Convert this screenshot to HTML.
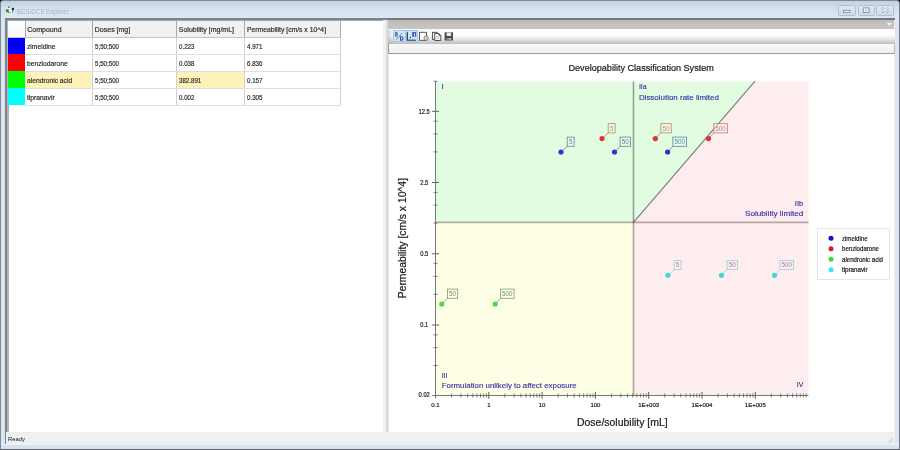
<!DOCTYPE html>
<html>
<head>
<meta charset="utf-8">
<title>BCS/DCS Explorer</title>
<style>
html,body{margin:0;padding:0;}
body{width:900px;height:450px;overflow:hidden;position:relative;background:#15171a;font-family:"Liberation Sans",sans-serif;font-size:7px;color:#2a2a2a;}
.abs{position:absolute;}
#outer{left:0;top:0;width:900px;height:450px;box-sizing:border-box;border:1px solid #6f757e;border-width:1px 1.3px 1.3px 1px;border-color:#838a94 #767d8a #5c626a #808b99;border-radius:4px 4px 0 0;background:#dbe6f2;}
#corners{left:0;top:0;width:900px;height:5px;}
#titlebar{left:1px;top:1px;width:898px;height:17px;background:linear-gradient(#c2d0e2,#d3dfed 40%,#dde8f3);border-radius:3px 3px 0 0;}
#title{left:17px;top:6.5px;font-size:7.4px;color:#98a6b9;white-space:nowrap;transform-origin:0 0;transform:scaleX(0.83);text-shadow:0 0 2px #fff;}
.wb{top:5px;height:10.5px;box-sizing:border-box;border:1px solid #b2bfd0;border-radius:1.5px;background:linear-gradient(#dfe8f3,#cfdbea);}
#clientborder{left:5px;top:18px;width:889.7px;height:426.1px;background:#7e8388;}
#client{left:7px;top:19.5px;width:887.8px;height:425.5px;background:#f0f0f0;}
#leftpane{left:6.5px;top:20.5px;width:376.7px;height:411.2px;background:#fff;border-left:2.6px solid #b3b4b7;box-sizing:border-box;}
#lp_top{left:7px;top:19.5px;width:377px;height:1.5px;background:#a5a8ab;}
#splitter{left:383.2px;top:19.5px;width:5px;height:413.8px;background:linear-gradient(90deg,#f1f1f1 0,#f1f1f1 54%,#dadada 58%,#dcdcdc 100%);}
#status{left:6px;top:431.7px;width:888.8px;height:12.4px;background:linear-gradient(#eeeeec,#eef1f5 35%,#f0f0f0 70%,#efefef);}
#status span{position:absolute;left:2px;top:3.7px;font-size:6.2px;color:#111;transform-origin:0 0;transform:scaleX(0.95);}
#frameB{left:1px;top:444.1px;width:897.7px;height:4.6px;background:linear-gradient(#eef3f9 0,#eef3f9 22%,#d8e3f0 26%,#d6e2ef 100%);}
table{border-collapse:collapse;}
#grid{left:8px;top:21px;table-layout:fixed;}
#grid td{height:17px;padding:1.5px 0 0 1.8px;border-right:1px solid #cfd1d8;border-bottom:1px solid #dfdfe3;font-size:7px;color:#1c1c1c;-webkit-text-stroke:0.18px #333;white-space:nowrap;box-sizing:border-box;overflow:hidden;}
#grid tr.h td{height:16px;padding-top:1.6px;background:#f1f1f1;border-right:1px solid #a9a9a9;border-bottom:1px solid #c4c4c4;color:#222;}
#grid td.sw{padding:0;border-bottom:none;border-right:none;}
#grid tr.h td.sw{background:linear-gradient(#fff,#f4f6fb);border-right:1px solid #a9a9a9;}
#grid td span{display:inline-block;transform-origin:0 50%;}
.n span{transform:scaleX(0.88);}
.hl{background:#fdf2b8;}
#rtopline{left:388px;top:18px;width:506.7px;height:1.6px;background:#73787d;}
#rhead{left:388px;top:19.5px;width:506.4px;height:9.2px;background:linear-gradient(#bdbcba,#c7c6c4);}
#rtool{left:388px;top:28.7px;width:506.8px;height:15.8px;background:linear-gradient(#fbfbfb,#ffffff 35%,#f0f0f0 60%,#bdbdbd);}
#rbar{left:388.2px;top:44.4px;width:506.7px;height:10px;background:linear-gradient(#f8f8f8,#f0f0f0);border:1px solid #999;border-top:none;border-right-color:#b8b8b8;box-sizing:border-box;border-radius:1px;}
#chartbg{left:388px;top:54.4px;width:505.9px;height:379.3px;background:#fff;}
#chartL{left:388px;top:54px;width:0.8px;height:378.5px;background:#e4e4e4;}
.tsel{top:30px;height:12.4px;box-sizing:border-box;border:1px solid #a2c5e8;background:#d4e8fb;}
</style>
</head>
<body>
<div id="wrap" style="position:absolute;left:0;top:0;width:900px;height:450px;will-change:transform">
<div class="abs" id="outer"></div>
<div class="abs" id="titlebar"></div>
<svg class="abs" style="left:2px;top:3px" width="16" height="14" viewBox="2 3 16 14">
<defs><radialGradient id="glow"><stop offset="0" stop-color="#fff" stop-opacity="0.75"/><stop offset="0.55" stop-color="#fff" stop-opacity="0.4"/><stop offset="1" stop-color="#fff" stop-opacity="0"/></radialGradient></defs>
<ellipse cx="9.6" cy="10.3" rx="5.6" ry="5.2" fill="url(#glow)"/>
<circle cx="7.4" cy="10.7" r="1.75" fill="#2e9642"/>
<path d="M7.6 12.2 Q9 13.4 10.6 12.6" stroke="#4a9a6a" stroke-width="1" fill="none"/>
<circle cx="12.9" cy="9.0" r="1.25" fill="#17175c"/>
<path d="M12.9 10.2 L12.5 12.6" stroke="#6f7fa6" stroke-width="1.2" fill="none"/>
<circle cx="8.8" cy="7.2" r="0.85" fill="#8c5c52"/>
<path d="M10 6.4 Q11.4 6.2 12 7.4" stroke="#b9a6d6" stroke-width="0.8" fill="none"/>
</svg>
<div class="abs" id="title">BCS/DCS Explorer</div>
<div class="abs wb" style="left:838.2px;width:17.6px"></div>
<div class="abs wb" style="left:857.5px;width:17.4px"></div>
<div class="abs wb" style="left:876.3px;width:18.2px"></div>
<svg class="abs" style="left:836px;top:4px" width="60" height="13" viewBox="836 4 60 13">
<rect x="843.6" y="10.4" width="6.4" height="2.2" fill="#f4f7fb" stroke="#7f8896" stroke-width="0.8"/>
<rect x="863.2" y="7.9" width="5.8" height="4.7" fill="#f4f7fb" stroke="#7f8896" stroke-width="0.9"/>
<rect x="865.2" y="9.8" width="1.8" height="1.2" fill="#9aa4b2"/>
<path d="M882.2 8 L888 12.6 M888 8 L882.2 12.6" stroke="#8a93a1" stroke-width="2.1" fill="none"/>
<path d="M882.6 8.3 L887.6 12.3 M887.6 8.3 L882.6 12.3" stroke="#f8fafd" stroke-width="1.15" fill="none"/>
</svg>
<div class="abs" style="left:893.8px;top:18px;width:1.6px;height:426.5px;background:#ececee"></div>
<div class="abs" id="clientborder"></div>
<div class="abs" id="client"></div>
<div class="abs" id="frameB"></div>
<div class="abs" id="leftpane"></div>
<div class="abs" id="lp_top"></div>
<table class="abs" id="grid">
<colgroup><col style="width:17px"><col style="width:67.5px"><col style="width:84px"><col style="width:68px"><col style="width:95.5px"></colgroup>
<tr class="h"><td class="sw"></td><td><span>Compound</span></td><td><span>Doses [mg]</span></td><td><span>Solubility [mg/mL]</span></td><td><span style="transform:scaleX(0.97)">Permeability [cm/s x 10^4]</span></td></tr>
<tr><td class="sw" style="background:#0000ff"></td><td><span style="transform:scaleX(0.96)">zimeldine</span></td><td class="n"><span>5;50;500</span></td><td class="n"><span>0.223</span></td><td class="n"><span>4.971</span></td></tr>
<tr><td class="sw" style="background:#ff0000"></td><td><span style="transform:scaleX(0.96)">benziodarone</span></td><td class="n"><span>5;50;500</span></td><td class="n"><span>0.038</span></td><td class="n"><span>6.836</span></td></tr>
<tr><td class="sw" style="background:#00ff00"></td><td class="hl"><span style="transform:scaleX(0.96)">alendronic acid</span></td><td class="n"><span>5;50;500</span></td><td class="hl n"><span>382.891</span></td><td class="n"><span>0.157</span></td></tr>
<tr><td class="sw" style="background:#00ffff"></td><td><span style="transform:scaleX(0.96)">tipranavir</span></td><td class="n"><span>5;50;500</span></td><td class="n"><span>0.002</span></td><td class="n"><span>0.305</span></td></tr>
</table>
<div class="abs" id="splitter"></div>
<div class="abs" id="rtopline"></div>
<div class="abs" id="rhead"></div>
<div class="abs" id="rtool"></div>
<div class="abs" style="left:388px;top:29.5px;width:5px;height:15px;background:linear-gradient(90deg,rgba(150,150,150,0.42),rgba(200,200,200,0))"></div>
<div class="abs" id="rbar"></div>
<div class="abs" id="chartbg"></div>
<div class="abs" id="chartL"></div>
<div class="abs tsel" style="left:393.4px;width:12.2px"></div>
<div class="abs tsel" style="left:405.6px;width:12.1px;background:#cbe2fa"></div>
<svg class="abs" style="left:388px;top:19px" width="507" height="27" viewBox="388 19 507 27">
<!-- dropdown arrow -->
<path d="M886.6 22.9 L892 22.9 L889.3 25.8 Z" fill="#fff" stroke="#dcdcdc" stroke-width="0.6"/>
<!-- percent icon -->
<ellipse cx="396.3" cy="33.3" rx="1.0" ry="1.0" fill="none" stroke="#31529a" stroke-width="1"/>
<ellipse cx="396.4" cy="35.4" rx="1.1" ry="1.1" fill="none" stroke="#31529a" stroke-width="1"/>
<line x1="402.2" y1="33" x2="396.2" y2="39.7" stroke="#6580b0" stroke-width="1"/>
<path d="M400.5 36.7 L400.5 40.1 L401.6 40.1 Q403 40.1 403 38.4 Q403 36.7 401.6 36.7 Z" fill="none" stroke="#31529a" stroke-width="1.1"/>
<!-- chart icon -->
<path d="M407.4 32.2 L407.4 40.3 L415.8 40.3" fill="none" stroke="#274545" stroke-width="1.1"/>
<path d="M408.6 39.4 L415.8 39.4" stroke="#52706f" stroke-width="0.7" stroke-dasharray="0.7 1.1"/>
<rect x="409.9" y="36.9" width="1.1" height="1.1" fill="#111"/>
<rect x="412.2" y="32.1" width="4" height="4.5" fill="#3d50b2"/>
<rect x="414" y="33.4" width="1" height="2.8" fill="#e8f0ff"/>
<!-- page+gear -->
<rect x="419.5" y="32.3" width="7" height="8" fill="#fdfdfd" stroke="#4a4a4a" stroke-width="0.9"/>
<circle cx="426.1" cy="38.2" r="2.1" fill="#f6f6f6" stroke="#6c6c6c" stroke-width="0.9"/>
<circle cx="426.1" cy="38.2" r="0.7" fill="#999"/>
<!-- copy -->
<rect x="432.4" y="32.3" width="4.6" height="7" fill="#fdfdfd" stroke="#3f3f3f" stroke-width="0.9"/>
<path d="M434.7 33.4 L438.8 33.4 L440.8 35.4 L440.8 40.5 L434.7 40.5 Z" fill="#f4f4f4" stroke="#3f3f3f" stroke-width="0.9"/>
<path d="M438.6 33.2 L441 35.6 L438.6 35.6 Z" fill="#222"/>
<path d="M436 36.6 H439.4 M436 38 H439.4" stroke="#aaa" stroke-width="0.5"/>
<!-- floppy -->
<rect x="444.6" y="32.2" width="8.4" height="8.4" rx="0.5" fill="#4c4c4c"/>
<rect x="446.6" y="32.5" width="4.5" height="3.5" fill="#e9e9e9"/>
<rect x="446.4" y="37.9" width="4.8" height="2.2" fill="#8a8a8a"/>
<rect x="449.4" y="38.2" width="1.2" height="1.7" fill="#d8d8d8"/>
</svg>
<div class="abs" id="status"><span>Ready</span></div>
<svg class="abs" style="left:886px;top:436px" width="9" height="9" viewBox="0 0 9 9">
<g fill="#c6c6c6"><rect x="5.6" y="1.8" width="1.1" height="1.1"/><rect x="3.8" y="3.6" width="1.1" height="1.1"/><rect x="5.6" y="3.6" width="1.1" height="1.1"/><rect x="2" y="5.4" width="1.1" height="1.1"/><rect x="3.8" y="5.4" width="1.1" height="1.1"/><rect x="5.6" y="5.4" width="1.1" height="1.1"/></g>
</svg>
<svg class="abs" id="chart" style="left:0;top:0" width="900" height="450" viewBox="0 0 900 450" font-family="Liberation Sans, sans-serif">
<rect x="436" y="81.5" width="197.5" height="140.8" fill="#e2fce1"/>
<polygon points="633.5,81.5 755.0,81.5 633.5,222.3" fill="#e2fce1"/>
<polygon points="755.0,81.5 808.5,81.5 808.5,222.3 633.5,222.3" fill="#fdedef"/>
<rect x="436" y="222.3" width="197.5" height="173.2" fill="#fefee5"/>
<rect x="633.5" y="222.3" width="175.0" height="173.2" fill="#fdedef"/>
<line x1="633.5" y1="81.5" x2="633.5" y2="222.3" stroke="#2f442f" stroke-opacity="0.48" stroke-width="1.6"/>
<line x1="633.5" y1="222.3" x2="633.5" y2="395.5" stroke="#4a4238" stroke-opacity="0.45" stroke-width="1.6"/>
<line x1="436" y1="222.3" x2="808.5" y2="222.3" stroke="#4a3a3a" stroke-opacity="0.40" stroke-width="1.7"/>
<line x1="633.5" y1="222.3" x2="755.0" y2="81.1" stroke="#4e524e" stroke-opacity="0.75" stroke-width="1.1"/>
<line x1="435.5" y1="81.0" x2="435.5" y2="398.5" stroke="#727a74" stroke-width="1"/>
<line x1="432.2" y1="395.5" x2="808.5" y2="395.5" stroke="#727a74" stroke-width="1"/>
<line x1="433.6" y1="81.2" x2="437.4" y2="81.2" stroke="#727a74" stroke-width="0.9"/>
<line x1="432.0" y1="111.3" x2="439.0" y2="111.3" stroke="#4d524d" stroke-width="0.9"/>
<text x="418.55" y="113.6" font-size="6.5" fill="#222" stroke="#222" stroke-width="0.2" textLength="11.3" lengthAdjust="spacingAndGlyphs">12.5</text>
<line x1="432.0" y1="182.5" x2="439.0" y2="182.5" stroke="#4d524d" stroke-width="0.9"/>
<text x="420.15" y="184.9" font-size="6.5" fill="#222" stroke="#222" stroke-width="0.2" textLength="8.1" lengthAdjust="spacingAndGlyphs">2.5</text>
<line x1="432.0" y1="253.8" x2="439.0" y2="253.8" stroke="#4d524d" stroke-width="0.9"/>
<text x="420.15" y="256.1" font-size="6.5" fill="#222" stroke="#222" stroke-width="0.2" textLength="8.1" lengthAdjust="spacingAndGlyphs">0.5</text>
<line x1="432.0" y1="325.0" x2="439.0" y2="325.0" stroke="#4d524d" stroke-width="0.9"/>
<text x="420.25" y="327.3" font-size="6.5" fill="#222" stroke="#222" stroke-width="0.2" textLength="7.9" lengthAdjust="spacingAndGlyphs">0.1</text>
<text x="418.60" y="397.4" font-size="6.5" fill="#222" stroke="#222" stroke-width="0.2" textLength="11.2" lengthAdjust="spacingAndGlyphs">0.02</text>
<line x1="433.4" y1="151.9" x2="437.6" y2="151.9" stroke="#555a55" stroke-width="0.7"/>
<line x1="433.4" y1="133.9" x2="437.6" y2="133.9" stroke="#555a55" stroke-width="0.7"/>
<line x1="433.4" y1="121.2" x2="437.6" y2="121.2" stroke="#555a55" stroke-width="0.7"/>
<line x1="433.4" y1="223.1" x2="437.6" y2="223.1" stroke="#555a55" stroke-width="0.7"/>
<line x1="433.4" y1="205.1" x2="437.6" y2="205.1" stroke="#555a55" stroke-width="0.7"/>
<line x1="433.4" y1="192.4" x2="437.6" y2="192.4" stroke="#555a55" stroke-width="0.7"/>
<line x1="433.4" y1="294.3" x2="437.6" y2="294.3" stroke="#555a55" stroke-width="0.7"/>
<line x1="433.4" y1="276.4" x2="437.6" y2="276.4" stroke="#555a55" stroke-width="0.7"/>
<line x1="433.4" y1="263.6" x2="437.6" y2="263.6" stroke="#555a55" stroke-width="0.7"/>
<line x1="433.4" y1="365.5" x2="437.6" y2="365.5" stroke="#555a55" stroke-width="0.7"/>
<line x1="433.4" y1="347.6" x2="437.6" y2="347.6" stroke="#555a55" stroke-width="0.7"/>
<line x1="433.4" y1="334.9" x2="437.6" y2="334.9" stroke="#555a55" stroke-width="0.7"/>
<text x="435.5" y="407.1" font-size="6.0" text-anchor="middle" fill="#222" stroke="#222" stroke-width="0.2">0.1</text>
<line x1="488.8" y1="392.0" x2="488.8" y2="398.8" stroke="#4d524d" stroke-width="0.9"/>
<text x="488.8" y="407.1" font-size="6.0" text-anchor="middle" fill="#222" stroke="#222" stroke-width="0.2">1</text>
<line x1="542.1" y1="392.0" x2="542.1" y2="398.8" stroke="#4d524d" stroke-width="0.9"/>
<text x="542.1" y="407.1" font-size="6.0" text-anchor="middle" fill="#222" stroke="#222" stroke-width="0.2">10</text>
<line x1="595.4" y1="392.0" x2="595.4" y2="398.8" stroke="#4d524d" stroke-width="0.9"/>
<text x="595.4" y="407.1" font-size="6.0" text-anchor="middle" fill="#222" stroke="#222" stroke-width="0.2">100</text>
<line x1="648.7" y1="392.0" x2="648.7" y2="398.8" stroke="#4d524d" stroke-width="0.9"/>
<text x="648.7" y="407.1" font-size="6.0" text-anchor="middle" fill="#222" stroke="#222" stroke-width="0.2">1E+003</text>
<line x1="702.0" y1="392.0" x2="702.0" y2="398.8" stroke="#4d524d" stroke-width="0.9"/>
<text x="702.0" y="407.1" font-size="6.0" text-anchor="middle" fill="#222" stroke="#222" stroke-width="0.2">1E+004</text>
<line x1="755.3" y1="392.0" x2="755.3" y2="398.8" stroke="#4d524d" stroke-width="0.9"/>
<text x="755.3" y="407.1" font-size="6.0" text-anchor="middle" fill="#222" stroke="#222" stroke-width="0.2">1E+005</text>
<line x1="451.5" y1="393.4" x2="451.5" y2="397.6" stroke="#555a55" stroke-width="0.7"/>
<line x1="460.9" y1="393.4" x2="460.9" y2="397.6" stroke="#555a55" stroke-width="0.7"/>
<line x1="467.6" y1="393.4" x2="467.6" y2="397.6" stroke="#555a55" stroke-width="0.7"/>
<line x1="472.8" y1="393.4" x2="472.8" y2="397.6" stroke="#555a55" stroke-width="0.7"/>
<line x1="477.0" y1="393.4" x2="477.0" y2="397.6" stroke="#555a55" stroke-width="0.7"/>
<line x1="480.5" y1="393.4" x2="480.5" y2="397.6" stroke="#555a55" stroke-width="0.7"/>
<line x1="483.6" y1="393.4" x2="483.6" y2="397.6" stroke="#555a55" stroke-width="0.7"/>
<line x1="486.4" y1="393.4" x2="486.4" y2="397.6" stroke="#555a55" stroke-width="0.7"/>
<line x1="504.8" y1="393.4" x2="504.8" y2="397.6" stroke="#555a55" stroke-width="0.7"/>
<line x1="514.2" y1="393.4" x2="514.2" y2="397.6" stroke="#555a55" stroke-width="0.7"/>
<line x1="520.9" y1="393.4" x2="520.9" y2="397.6" stroke="#555a55" stroke-width="0.7"/>
<line x1="526.1" y1="393.4" x2="526.1" y2="397.6" stroke="#555a55" stroke-width="0.7"/>
<line x1="530.3" y1="393.4" x2="530.3" y2="397.6" stroke="#555a55" stroke-width="0.7"/>
<line x1="533.8" y1="393.4" x2="533.8" y2="397.6" stroke="#555a55" stroke-width="0.7"/>
<line x1="536.9" y1="393.4" x2="536.9" y2="397.6" stroke="#555a55" stroke-width="0.7"/>
<line x1="539.7" y1="393.4" x2="539.7" y2="397.6" stroke="#555a55" stroke-width="0.7"/>
<line x1="558.1" y1="393.4" x2="558.1" y2="397.6" stroke="#555a55" stroke-width="0.7"/>
<line x1="567.5" y1="393.4" x2="567.5" y2="397.6" stroke="#555a55" stroke-width="0.7"/>
<line x1="574.2" y1="393.4" x2="574.2" y2="397.6" stroke="#555a55" stroke-width="0.7"/>
<line x1="579.4" y1="393.4" x2="579.4" y2="397.6" stroke="#555a55" stroke-width="0.7"/>
<line x1="583.6" y1="393.4" x2="583.6" y2="397.6" stroke="#555a55" stroke-width="0.7"/>
<line x1="587.1" y1="393.4" x2="587.1" y2="397.6" stroke="#555a55" stroke-width="0.7"/>
<line x1="590.2" y1="393.4" x2="590.2" y2="397.6" stroke="#555a55" stroke-width="0.7"/>
<line x1="593.0" y1="393.4" x2="593.0" y2="397.6" stroke="#555a55" stroke-width="0.7"/>
<line x1="611.4" y1="393.4" x2="611.4" y2="397.6" stroke="#555a55" stroke-width="0.7"/>
<line x1="620.8" y1="393.4" x2="620.8" y2="397.6" stroke="#555a55" stroke-width="0.7"/>
<line x1="627.5" y1="393.4" x2="627.5" y2="397.6" stroke="#555a55" stroke-width="0.7"/>
<line x1="632.7" y1="393.4" x2="632.7" y2="397.6" stroke="#555a55" stroke-width="0.7"/>
<line x1="636.9" y1="393.4" x2="636.9" y2="397.6" stroke="#555a55" stroke-width="0.7"/>
<line x1="640.4" y1="393.4" x2="640.4" y2="397.6" stroke="#555a55" stroke-width="0.7"/>
<line x1="643.5" y1="393.4" x2="643.5" y2="397.6" stroke="#555a55" stroke-width="0.7"/>
<line x1="646.3" y1="393.4" x2="646.3" y2="397.6" stroke="#555a55" stroke-width="0.7"/>
<line x1="664.7" y1="393.4" x2="664.7" y2="397.6" stroke="#555a55" stroke-width="0.7"/>
<line x1="674.1" y1="393.4" x2="674.1" y2="397.6" stroke="#555a55" stroke-width="0.7"/>
<line x1="680.8" y1="393.4" x2="680.8" y2="397.6" stroke="#555a55" stroke-width="0.7"/>
<line x1="686.0" y1="393.4" x2="686.0" y2="397.6" stroke="#555a55" stroke-width="0.7"/>
<line x1="690.2" y1="393.4" x2="690.2" y2="397.6" stroke="#555a55" stroke-width="0.7"/>
<line x1="693.7" y1="393.4" x2="693.7" y2="397.6" stroke="#555a55" stroke-width="0.7"/>
<line x1="696.8" y1="393.4" x2="696.8" y2="397.6" stroke="#555a55" stroke-width="0.7"/>
<line x1="699.6" y1="393.4" x2="699.6" y2="397.6" stroke="#555a55" stroke-width="0.7"/>
<line x1="718.0" y1="393.4" x2="718.0" y2="397.6" stroke="#555a55" stroke-width="0.7"/>
<line x1="727.4" y1="393.4" x2="727.4" y2="397.6" stroke="#555a55" stroke-width="0.7"/>
<line x1="734.1" y1="393.4" x2="734.1" y2="397.6" stroke="#555a55" stroke-width="0.7"/>
<line x1="739.3" y1="393.4" x2="739.3" y2="397.6" stroke="#555a55" stroke-width="0.7"/>
<line x1="743.5" y1="393.4" x2="743.5" y2="397.6" stroke="#555a55" stroke-width="0.7"/>
<line x1="747.0" y1="393.4" x2="747.0" y2="397.6" stroke="#555a55" stroke-width="0.7"/>
<line x1="750.1" y1="393.4" x2="750.1" y2="397.6" stroke="#555a55" stroke-width="0.7"/>
<line x1="752.9" y1="393.4" x2="752.9" y2="397.6" stroke="#555a55" stroke-width="0.7"/>
<line x1="771.3" y1="393.4" x2="771.3" y2="397.6" stroke="#555a55" stroke-width="0.7"/>
<line x1="780.7" y1="393.4" x2="780.7" y2="397.6" stroke="#555a55" stroke-width="0.7"/>
<line x1="787.4" y1="393.4" x2="787.4" y2="397.6" stroke="#555a55" stroke-width="0.7"/>
<line x1="792.6" y1="393.4" x2="792.6" y2="397.6" stroke="#555a55" stroke-width="0.7"/>
<line x1="796.8" y1="393.4" x2="796.8" y2="397.6" stroke="#555a55" stroke-width="0.7"/>
<line x1="800.3" y1="393.4" x2="800.3" y2="397.6" stroke="#555a55" stroke-width="0.7"/>
<line x1="803.4" y1="393.4" x2="803.4" y2="397.6" stroke="#555a55" stroke-width="0.7"/>
<line x1="806.2" y1="393.4" x2="806.2" y2="397.6" stroke="#555a55" stroke-width="0.7"/>
<text x="441.6" y="89.4" font-size="7.9" text-anchor="start" fill="#2e2ea6" stroke="#2e2ea6" stroke-width="0.12">I</text>
<text x="638.9" y="89.4" font-size="7.9" text-anchor="start" fill="#2e2ea6" stroke="#2e2ea6" stroke-width="0.12" textLength="7.8" lengthAdjust="spacingAndGlyphs">IIa</text>
<text x="638.9" y="100.0" font-size="7.9" text-anchor="start" fill="#2e2ea6" stroke="#2e2ea6" stroke-width="0.12" textLength="80" lengthAdjust="spacingAndGlyphs">Dissolution rate limited</text>
<text x="794.8" y="205.8" font-size="7.9" text-anchor="start" fill="#2e2ea6" stroke="#2e2ea6" stroke-width="0.12" textLength="8.5" lengthAdjust="spacingAndGlyphs">IIb</text>
<text x="745.0" y="216.3" font-size="7.9" text-anchor="start" fill="#2e2ea6" stroke="#2e2ea6" stroke-width="0.12" textLength="58.3" lengthAdjust="spacingAndGlyphs">Solubility limited</text>
<text x="441.7" y="377.8" font-size="7.9" text-anchor="start" fill="#2e2ea6" stroke="#2e2ea6" stroke-width="0.12" textLength="5.8" lengthAdjust="spacingAndGlyphs">III</text>
<text x="441.7" y="388.3" font-size="7.9" text-anchor="start" fill="#2e2ea6" stroke="#2e2ea6" stroke-width="0.12" textLength="135" lengthAdjust="spacingAndGlyphs">Formulation unlikely to affect exposure</text>
<text x="796.7" y="386.7" font-size="7.9" text-anchor="start" fill="#2e2ea6" stroke="#2e2ea6" stroke-width="0.12" textLength="6.6" lengthAdjust="spacingAndGlyphs">IV</text>
<line x1="561.0" y1="152.0" x2="567.2" y2="146.3" stroke="#56849a" stroke-width="0.8"/>
<rect x="567.2" y="137.10000000000002" width="6.9" height="9.2" fill="#f2fbf6" fill-opacity="0.55" stroke="#56849a" stroke-width="0.8"/>
<text x="570.7" y="144.1" font-size="6.3" text-anchor="middle" fill="#4f83ab">5</text>
<circle cx="561.0" cy="152.0" r="2.6" fill="#2536cb"/>
<line x1="614.5" y1="152.0" x2="620.1" y2="146.3" stroke="#56849a" stroke-width="0.8"/>
<rect x="620.1" y="137.10000000000002" width="10.3" height="9.2" fill="#f2fbf6" fill-opacity="0.55" stroke="#56849a" stroke-width="0.8"/>
<text x="625.2" y="144.1" font-size="6.3" text-anchor="middle" fill="#4f83ab">50</text>
<circle cx="614.5" cy="152.0" r="2.6" fill="#2536cb"/>
<line x1="667.6" y1="152.0" x2="672.9" y2="146.3" stroke="#56849a" stroke-width="0.8"/>
<rect x="672.9" y="137.10000000000002" width="13.6" height="9.2" fill="#f2fbf6" fill-opacity="0.55" stroke="#56849a" stroke-width="0.8"/>
<text x="679.7" y="144.1" font-size="6.3" text-anchor="middle" fill="#4f83ab">500</text>
<circle cx="667.6" cy="152.0" r="2.6" fill="#2536cb"/>
<line x1="602.0" y1="138.6" x2="608.2" y2="132.9" stroke="#a98c6e" stroke-width="0.8"/>
<rect x="608.2" y="123.7" width="6.9" height="9.2" fill="#f9f6e6" fill-opacity="0.55" stroke="#a98c6e" stroke-width="0.8"/>
<text x="611.7" y="130.7" font-size="6.3" text-anchor="middle" fill="#c29268">5</text>
<circle cx="602.0" cy="138.6" r="2.6" fill="#d43a30"/>
<line x1="655.3" y1="138.6" x2="660.9" y2="132.9" stroke="#a98c6e" stroke-width="0.8"/>
<rect x="660.9" y="123.7" width="10.3" height="9.2" fill="#f9f6e6" fill-opacity="0.55" stroke="#a98c6e" stroke-width="0.8"/>
<text x="666.0" y="130.7" font-size="6.3" text-anchor="middle" fill="#c29268">50</text>
<circle cx="655.3" cy="138.6" r="2.6" fill="#d43a30"/>
<line x1="708.5" y1="138.6" x2="713.8" y2="132.9" stroke="#a98c6e" stroke-width="0.8"/>
<rect x="713.8" y="123.7" width="13.6" height="9.2" fill="#fcf0f0" fill-opacity="0.55" stroke="#b97c7c" stroke-width="0.8"/>
<text x="720.6" y="130.7" font-size="6.3" text-anchor="middle" fill="#cc7f7f">500</text>
<circle cx="708.5" cy="138.6" r="2.6" fill="#d43a30"/>
<line x1="441.8" y1="304.0" x2="447.40000000000003" y2="298.3" stroke="#7a9e6c" stroke-width="0.8"/>
<rect x="447.40000000000003" y="289.1" width="10.3" height="9.2" fill="#fcfee8" fill-opacity="0.55" stroke="#7a9e6c" stroke-width="0.8"/>
<text x="452.6" y="296.1" font-size="6.3" text-anchor="middle" fill="#78896a">50</text>
<circle cx="441.8" cy="304.0" r="2.6" fill="#44dd44"/>
<line x1="495.2" y1="304.0" x2="500.5" y2="298.3" stroke="#7a9e6c" stroke-width="0.8"/>
<rect x="500.5" y="289.1" width="13.6" height="9.2" fill="#fcfee8" fill-opacity="0.55" stroke="#7a9e6c" stroke-width="0.8"/>
<text x="507.3" y="296.1" font-size="6.3" text-anchor="middle" fill="#78896a">500</text>
<circle cx="495.2" cy="304.0" r="2.6" fill="#44dd44"/>
<line x1="667.9" y1="275.3" x2="674.1" y2="269.6" stroke="#9ccfd0" stroke-width="0.8"/>
<rect x="674.1" y="260.40000000000003" width="6.9" height="9.2" fill="#fcf2f5" fill-opacity="0.55" stroke="#9ccfd0" stroke-width="0.8"/>
<text x="677.6" y="267.4" font-size="6.3" text-anchor="middle" fill="#ab7aab">5</text>
<circle cx="667.9" cy="275.3" r="2.6" fill="#3fd9d0"/>
<line x1="721.5" y1="275.3" x2="727.1" y2="269.6" stroke="#9ccfd0" stroke-width="0.8"/>
<rect x="727.1" y="260.40000000000003" width="10.3" height="9.2" fill="#fcf2f5" fill-opacity="0.55" stroke="#9ccfd0" stroke-width="0.8"/>
<text x="732.2" y="267.4" font-size="6.3" text-anchor="middle" fill="#ab7aab">50</text>
<circle cx="721.5" cy="275.3" r="2.6" fill="#3fd9d0"/>
<line x1="774.6" y1="275.3" x2="779.9" y2="269.6" stroke="#9ccfd0" stroke-width="0.8"/>
<rect x="779.9" y="260.40000000000003" width="13.6" height="9.2" fill="#fcf2f5" fill-opacity="0.55" stroke="#9ccfd0" stroke-width="0.8"/>
<text x="786.7" y="267.4" font-size="6.3" text-anchor="middle" fill="#ab7aab">500</text>
<circle cx="774.6" cy="275.3" r="2.6" fill="#3fd9d0"/>
<rect x="817.5" y="228.5" width="72" height="51" fill="#fff" stroke="#e4e5ec" stroke-width="1"/>
<circle cx="831" cy="238.2" r="2.5" fill="#1212c8"/>
<text x="842" y="240.5" font-size="6.5" text-anchor="start" fill="#1a1a1a" stroke="#1a1a1a" stroke-width="0.2" textLength="25.5" lengthAdjust="spacingAndGlyphs">zimeldine</text>
<circle cx="831" cy="248.7" r="2.5" fill="#e01a1a"/>
<text x="842" y="251.0" font-size="6.5" text-anchor="start" fill="#1a1a1a" stroke="#1a1a1a" stroke-width="0.2" textLength="37" lengthAdjust="spacingAndGlyphs">benziodarone</text>
<circle cx="831" cy="259.2" r="2.5" fill="#33e033"/>
<text x="842" y="261.5" font-size="6.5" text-anchor="start" fill="#1a1a1a" stroke="#1a1a1a" stroke-width="0.2" textLength="41" lengthAdjust="spacingAndGlyphs">alendronic acid</text>
<circle cx="831" cy="269.7" r="2.5" fill="#33e6f7"/>
<text x="842" y="272.0" font-size="6.5" text-anchor="start" fill="#1a1a1a" stroke="#1a1a1a" stroke-width="0.2" textLength="25.5" lengthAdjust="spacingAndGlyphs">tipranavir</text>
<text x="568.5" y="70.7" font-size="9.7" text-anchor="start" fill="#1c1c1c" stroke="#1c1c1c" stroke-width="0.22" textLength="145.3" lengthAdjust="spacingAndGlyphs">Developability Classification System</text>
<text x="577.0" y="425.7" font-size="10.6" text-anchor="start" fill="#1c1c1c" stroke="#1c1c1c" stroke-width="0.22" textLength="90.7" lengthAdjust="spacingAndGlyphs">Dose/solubility [mL]</text>
<text transform="translate(406.2,298.2) rotate(-90)" font-size="10.6" fill="#1c1c1c" stroke="#1c1c1c" stroke-width="0.22" textLength="120" lengthAdjust="spacingAndGlyphs">Permeability [cm/s x 10^4]</text>
</svg>
</div>
</body>
</html>
